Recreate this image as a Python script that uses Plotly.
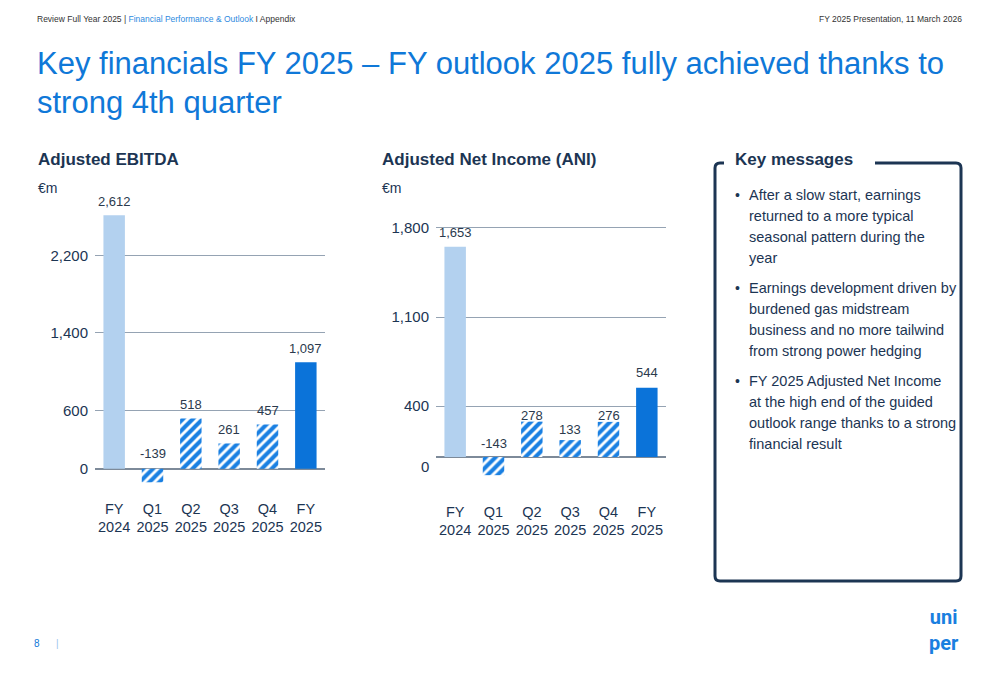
import plotly.graph_objects as go

# ---------------- data ----------------
categories = ["FY<br>2024", "Q1<br>2025", "Q2<br>2025", "Q3<br>2025", "Q4<br>2025", "FY<br>2025"]
ebitda_values = [2612, -139, 518, 261, 457, 1097]
ani_values = [1653, -143, 278, 133, 276, 544]
ebitda_ticks = [0, 600, 1400, 2200]
ani_ticks = [400, 1100, 1800]

bullets = [
    ["After a slow start, earnings", "returned to a more typical", "seasonal pattern during the", "year"],
    ["Earnings development driven by", "burdened gas midstream", "business and no more tailwind", "from strong power hedging"],
    ["FY 2025 Adjusted Net Income", "at the high end of the guided", "outlook range thanks to a strong", "financial result"],
]

# ---------------- styles ----------------
W, H = 1000, 685
FONT = "Liberation Sans Narrow, Arial Narrow, Liberation Sans, Arial, sans-serif"
NAVY = "#1c3553"
BLUE = "#0f78d8"
LIGHT = "#b3d1ef"
DARK = "#0b73d9"
HATCH = "#1a80e2"
GRID = "#95a3b3"
ZERO = "#7d8a99"
LABEL = "#2b3a4d"

solid_idx = [0, 5]          # full-year bars
hatched_idx = [1, 2, 3, 4]  # quarterly bars
solid_colors = [LIGHT, DARK]
ebitda_label_shift = [14, 15, 14, 14, 14, 14]
ani_label_shift = [14, 13, 6, 11, 6, 15]


def px(x):
    return x / W


def py(y):
    return 1 - y / H


fig = go.Figure()

for vals, xa, ya in [(ebitda_values, "x", "y"), (ani_values, "x2", "y2")]:
    fig.add_trace(go.Bar(
        x=[categories[i] for i in solid_idx], y=[vals[i] for i in solid_idx],
        xaxis=xa, yaxis=ya, width=0.56,
        marker=dict(color=solid_colors, line=dict(width=0)),
        showlegend=False, hoverinfo="skip",
    ))
    fig.add_trace(go.Bar(
        x=[categories[i] for i in hatched_idx], y=[vals[i] for i in hatched_idx],
        xaxis=xa, yaxis=ya, width=0.56,
        marker=dict(color=HATCH, line=dict(width=0),
                    pattern=dict(shape="/", fgcolor=HATCH, bgcolor="white",
                                 fillmode="replace", size=7, solidity=0.58)),
        showlegend=False, hoverinfo="skip",
    ))

annotations = []
for vals, shifts, xr, yr in [(ebitda_values, ebitda_label_shift, "x", "y"),
                             (ani_values, ani_label_shift, "x2", "y2")]:
    for c, v, s in zip(categories, vals, shifts):
        annotations.append(dict(x=c, y=max(v, 0), xref=xr, yref=yr, text=f"{v:,}",
                                showarrow=False, yanchor="middle", yshift=s,
                                font=dict(family=FONT, size=13, color=LABEL)))

axis_common = dict(showgrid=False, zeroline=False, showline=False, ticks="",
                   categoryorder="array", categoryarray=categories,
                   tickfont=dict(family=FONT, size=14.5, color=NAVY), fixedrange=True)
yaxis_common = dict(showgrid=True, gridcolor=GRID, gridwidth=1, zeroline=True,
                    zerolinecolor=ZERO, zerolinewidth=1.5, showline=False, ticks="",
                    tickfont=dict(family=FONT, size=15, color=NAVY), ticklabelstandoff=6,
                    fixedrange=True)

fig.update_layout(
    width=W, height=H, margin=dict(l=0, r=0, t=0, b=0),
    paper_bgcolor="white", plot_bgcolor="white", barmode="overlay",
    font=dict(family=FONT, color=NAVY),
    xaxis=dict(domain=[px(95), px(325)], anchor="y", **axis_common),
    yaxis=dict(domain=[py(498), py(200)], anchor="x", range=[-301, 2770],
               tickvals=ebitda_ticks, ticktext=[f"{t:,}" for t in ebitda_ticks], **yaxis_common),
    xaxis2=dict(domain=[px(436), px(666)], anchor="y2", **axis_common),
    yaxis2=dict(domain=[py(501), py(200)], anchor="x2", range=[-346, 2020],
                tickvals=ani_ticks, ticktext=[f"{t:,}" for t in ani_ticks], **yaxis_common),
)

# "0" label of the ANI axis sits slightly below the zero line
annotations.append(dict(x=0, y=0, xref="x2 domain", yref="y2", text="0", showarrow=False,
                        xanchor="right", yanchor="middle", xshift=-5, yshift=-10,
                        font=dict(family=FONT, size=15, color=NAVY)))


def text(x, y, t, size, color=NAVY, bold=False, xanchor="left", yanchor="middle", family=FONT,
         align="left"):
    if bold:
        t = f"<b>{t}</b>"
    annotations.append(dict(x=px(x), y=py(y), xref="paper", yref="paper", text=t,
                            showarrow=False, xanchor=xanchor, yanchor=yanchor, align=align,
                            font=dict(family=family, size=size, color=color)))


# header
text(35, 19, "Review Full Year 2025 | <span style='color:#2d8ae0'>Financial Performance &amp; Outlook</span> I Appendix", 8.5, color="#333333")
text(964, 19, "FY 2025 Presentation, 11 March 2026", 8.5, color="#333333", xanchor="right")

# title
text(35, 63, "Key financials FY 2025 – FY outlook 2025 fully achieved thanks to", 31, color=BLUE)
text(35, 102, "strong 4th quarter", 31, color=BLUE)

# section headers
text(36, 159, "Adjusted EBITDA", 17, bold=True)
text(36, 188, "€m", 14)
text(380, 159, "Adjusted Net Income (ANI)", 17, bold=True)
text(380, 188, "€m", 14)
text(733, 159, "Key messages", 17, bold=True)

# bullets
y0 = 195
for b in bullets:
    text(733, y0, "•", 14)
    for i, line in enumerate(b):
        text(747, y0 + 21 * i, line, 14.5)
    y0 += 21 * len(b) + 9

# footer
text(37, 643, "8", 10, color=BLUE, xanchor="center")
text(57, 643, "|", 10, color="#9cc6ee", xanchor="center")
text(944, 630, "uni<br>per", 20, color="#1a7fe0", bold=True, xanchor="center",
     family="Roboto, Liberation Sans, sans-serif", align="center")

fig.update_layout(annotations=annotations)

# key messages box (border with gap for the heading)
r = 5
L, R, T, B = 715, 961, 163, 581
pts = [("M", 724, T), ("L", L + r, T), ("Q", L, T, L, T + r), ("L", L, B - r), ("Q", L, B, L + r, B),
       ("L", R - r, B), ("Q", R, B, R, B - r), ("L", R, T + r), ("Q", R, T, R - r, T), ("L", 875, T)]
path = ""
for p in pts:
    cmd, coords = p[0], p[1:]
    pairs = [f"{px(coords[i])},{py(coords[i + 1])}" for i in range(0, len(coords), 2)]
    path += f"{cmd} " + " ".join(pairs) + " "
fig.add_shape(type="path", path=path.strip(), xref="paper", yref="paper",
              line=dict(color=NAVY, width=3))

fig.write_html("out.html")
